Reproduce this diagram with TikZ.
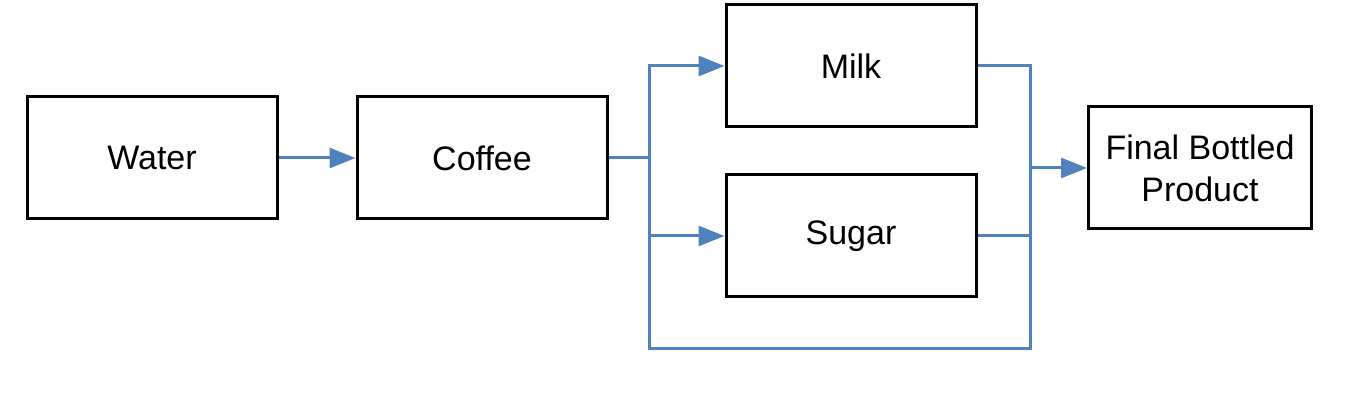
\documentclass[tikz,border=0pt]{standalone}
\usepackage{fontspec}
\setmainfont{Liberation Sans}
\usetikzlibrary{positioning, arrows.meta}
\definecolor{flowblue}{RGB}{79,129,189}
\begin{document}
\begin{tikzpicture}[
    x=1pt, y=-1pt,
    block/.style={rectangle, draw, line width=3pt, minimum width=250pt,
                  minimum height=122pt, align=center, inner sep=0pt,
                  font=\fontsize{34}{42}\selectfont},
    link/.style={line width=3pt, flowblue},
    arr/.style={link, -{Triangle[length=26pt, width=20pt]}},
]
\useasboundingbox (0,0) rectangle (1357,419);

% Stages
\node[block] (water) at (152,158) {Water};
\node[block] (coffee) at (482,158) {Coffee};
\node[block] (milk) at (851,66) {Milk};
\node[block] (sugar) at (851,236) {Sugar};
\node[block, minimum width=223pt] (final) at (1200,168) {Final Bottled\\Product};

% Branch and merge points
\coordinate (split) at (649,158);
\coordinate (join) at (1030,168);

% Connectors
\draw[arr] (water) -- (coffee);
\draw[link] (coffee) -- (split);
\draw[arr] (split) |- (milk);
\draw[arr] (split) |- (sugar);
\draw[link] (split) |- (649,349) -| (join);
\draw[link] (milk) -| (join);
\draw[link] (sugar) -| (join);
\draw[arr] (join) -- (final);

\end{tikzpicture}
\end{document}
